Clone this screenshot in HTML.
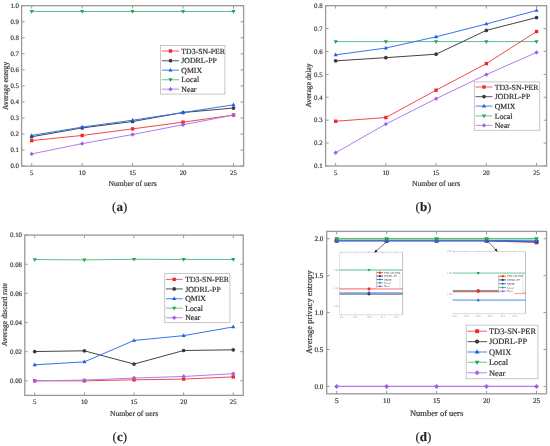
<!DOCTYPE html>
<html><head><meta charset="utf-8"><title>Figure</title>
<style>
html,body{margin:0;padding:0;background:#fff;width:550px;height:446px;overflow:hidden}
svg{display:block}
text{font-family:'Liberation Serif', 'Times New Roman', serif;text-rendering:geometricPrecision}
.tx text{stroke:#333;stroke-width:0.18px}
</style></head><body>
<svg width="550" height="446" viewBox="0 0 550 446">
<defs><filter id="bl" x="0" y="0" width="100%" height="100%"><feGaussianBlur stdDeviation="0.35"/></filter></defs>
<g filter="url(#bl)">
<rect x="0" y="0" width="550" height="446" fill="#ffffff"/><g class="tx"><g stroke="#999999" stroke-width="1"><line x1="31.69" y1="166.10" x2="31.69" y2="163.10"/><line x1="31.69" y1="5.70" x2="31.69" y2="8.70"/><line x1="82.15" y1="166.10" x2="82.15" y2="163.10"/><line x1="82.15" y1="5.70" x2="82.15" y2="8.70"/><line x1="132.60" y1="166.10" x2="132.60" y2="163.10"/><line x1="132.60" y1="5.70" x2="132.60" y2="8.70"/><line x1="183.05" y1="166.10" x2="183.05" y2="163.10"/><line x1="183.05" y1="5.70" x2="183.05" y2="8.70"/><line x1="233.51" y1="166.10" x2="233.51" y2="163.10"/><line x1="233.51" y1="5.70" x2="233.51" y2="8.70"/><line x1="21.60" y1="166.10" x2="24.60" y2="166.10"/><line x1="243.60" y1="166.10" x2="240.60" y2="166.10"/><line x1="21.60" y1="150.06" x2="24.60" y2="150.06"/><line x1="243.60" y1="150.06" x2="240.60" y2="150.06"/><line x1="21.60" y1="134.02" x2="24.60" y2="134.02"/><line x1="243.60" y1="134.02" x2="240.60" y2="134.02"/><line x1="21.60" y1="117.98" x2="24.60" y2="117.98"/><line x1="243.60" y1="117.98" x2="240.60" y2="117.98"/><line x1="21.60" y1="101.94" x2="24.60" y2="101.94"/><line x1="243.60" y1="101.94" x2="240.60" y2="101.94"/><line x1="21.60" y1="85.90" x2="24.60" y2="85.90"/><line x1="243.60" y1="85.90" x2="240.60" y2="85.90"/><line x1="21.60" y1="69.86" x2="24.60" y2="69.86"/><line x1="243.60" y1="69.86" x2="240.60" y2="69.86"/><line x1="21.60" y1="53.82" x2="24.60" y2="53.82"/><line x1="243.60" y1="53.82" x2="240.60" y2="53.82"/><line x1="21.60" y1="37.78" x2="24.60" y2="37.78"/><line x1="243.60" y1="37.78" x2="240.60" y2="37.78"/><line x1="21.60" y1="21.74" x2="24.60" y2="21.74"/><line x1="243.60" y1="21.74" x2="240.60" y2="21.74"/><line x1="21.60" y1="5.70" x2="24.60" y2="5.70"/><line x1="243.60" y1="5.70" x2="240.60" y2="5.70"/></g><polyline points="31.69,11.47 82.15,11.47 132.60,11.47 183.05,11.47 233.51,11.47" fill="none" stroke="#58c088" stroke-width="1.0"/><polygon points="31.69,13.77 33.76,10.09 29.62,10.09" fill="#23a45a"/><polygon points="82.15,13.77 84.22,10.09 80.08,10.09" fill="#23a45a"/><polygon points="132.60,13.77 134.67,10.09 130.53,10.09" fill="#23a45a"/><polygon points="183.05,13.77 185.12,10.09 180.98,10.09" fill="#23a45a"/><polygon points="233.51,13.77 235.58,10.09 231.44,10.09" fill="#23a45a"/><polyline points="31.69,140.60 82.15,135.46 132.60,128.89 183.05,122.15 233.51,115.09" fill="none" stroke="#f24848" stroke-width="1.0"/><rect x="29.99" y="138.90" width="3.40" height="3.40" fill="#f02c2c"/><rect x="80.45" y="133.76" width="3.40" height="3.40" fill="#f02c2c"/><rect x="130.90" y="127.19" width="3.40" height="3.40" fill="#f02c2c"/><rect x="181.35" y="120.45" width="3.40" height="3.40" fill="#f02c2c"/><rect x="231.81" y="113.39" width="3.40" height="3.40" fill="#f02c2c"/><polyline points="31.69,136.75 82.15,127.92 132.60,121.51 183.05,112.53 233.51,108.04" fill="none" stroke="#444444" stroke-width="1.0"/><circle cx="31.69" cy="136.75" r="1.85" fill="#3a3a3a"/><circle cx="82.15" cy="127.92" r="1.85" fill="#3a3a3a"/><circle cx="132.60" cy="121.51" r="1.85" fill="#3a3a3a"/><circle cx="183.05" cy="112.53" r="1.85" fill="#3a3a3a"/><circle cx="233.51" cy="108.04" r="1.85" fill="#3a3a3a"/><polyline points="31.69,135.46 82.15,127.12 132.60,120.23 183.05,112.53 233.51,104.83" fill="none" stroke="#3575ee" stroke-width="1.0"/><polygon points="31.69,133.16 33.76,136.84 29.62,136.84" fill="#1f5fe8"/><polygon points="82.15,124.82 84.22,128.50 80.08,128.50" fill="#1f5fe8"/><polygon points="132.60,117.93 134.67,121.61 130.53,121.61" fill="#1f5fe8"/><polygon points="183.05,110.23 185.12,113.91 180.98,113.91" fill="#1f5fe8"/><polygon points="233.51,102.53 235.58,106.21 231.44,106.21" fill="#1f5fe8"/><polyline points="31.69,153.91 82.15,143.64 132.60,134.50 183.05,124.72 233.51,115.09" fill="none" stroke="#b07cec" stroke-width="1.0"/><polygon points="31.69,151.71 33.89,153.91 31.69,156.11 29.49,153.91" fill="#a45ee6"/><polygon points="82.15,141.44 84.35,143.64 82.15,145.84 79.95,143.64" fill="#a45ee6"/><polygon points="132.60,132.30 134.80,134.50 132.60,136.70 130.40,134.50" fill="#a45ee6"/><polygon points="183.05,122.52 185.25,124.72 183.05,126.92 180.85,124.72" fill="#a45ee6"/><polygon points="233.51,112.89 235.71,115.09 233.51,117.29 231.31,115.09" fill="#a45ee6"/><rect x="21.60" y="5.70" width="222.00" height="160.40" fill="none" stroke="#999999" stroke-width="1.3"/><g font-size="6.85" fill="#333333"><text x="31.69" y="174.60" text-anchor="middle">5</text><text x="82.15" y="174.60" text-anchor="middle">10</text><text x="132.60" y="174.60" text-anchor="middle">15</text><text x="183.05" y="174.60" text-anchor="middle">20</text><text x="233.51" y="174.60" text-anchor="middle">25</text><text x="19.00" y="168.36" text-anchor="end">0.0</text><text x="19.00" y="152.32" text-anchor="end">0.1</text><text x="19.00" y="136.28" text-anchor="end">0.2</text><text x="19.00" y="120.24" text-anchor="end">0.3</text><text x="19.00" y="104.20" text-anchor="end">0.4</text><text x="19.00" y="88.16" text-anchor="end">0.5</text><text x="19.00" y="72.12" text-anchor="end">0.6</text><text x="19.00" y="56.08" text-anchor="end">0.7</text><text x="19.00" y="40.04" text-anchor="end">0.8</text><text x="19.00" y="24.00" text-anchor="end">0.9</text><text x="19.00" y="7.96" text-anchor="end">1.0</text></g><text x="132.60" y="186.00" font-size="7.7" text-anchor="middle" fill="#333333">Number of uers</text><text transform="translate(8.10,85.80) rotate(-90)" font-size="7.7" text-anchor="middle" fill="#333333">Average energy</text><rect x="160.50" y="45.50" width="64.40" height="48.60" fill="#fff" stroke="#c0c0c0" stroke-width="0.9"/><line x1="161.80" y1="51.00" x2="179.10" y2="51.00" stroke="#f24848" stroke-width="1.2" opacity="0.75"/><rect x="168.80" y="49.30" width="3.40" height="3.40" fill="#f02c2c"/><text x="181.30" y="53.65" font-size="7.8" fill="#2a2a2a">TD3-SN-PER</text><line x1="161.80" y1="60.70" x2="179.10" y2="60.70" stroke="#444444" stroke-width="1.2" opacity="0.75"/><circle cx="170.50" cy="60.70" r="1.85" fill="#3a3a3a"/><text x="181.30" y="63.35" font-size="7.8" fill="#2a2a2a">JODRL-PP</text><line x1="161.80" y1="70.20" x2="179.10" y2="70.20" stroke="#3575ee" stroke-width="1.2" opacity="0.75"/><polygon points="170.50,67.90 172.57,71.58 168.43,71.58" fill="#1f5fe8"/><text x="181.30" y="72.85" font-size="7.8" fill="#2a2a2a">QMIX</text><line x1="161.80" y1="79.70" x2="179.10" y2="79.70" stroke="#58c088" stroke-width="1.2" opacity="0.75"/><polygon points="170.50,82.00 172.57,78.32 168.43,78.32" fill="#23a45a"/><text x="181.30" y="82.35" font-size="7.8" fill="#2a2a2a">Local</text><line x1="161.80" y1="89.20" x2="179.10" y2="89.20" stroke="#b07cec" stroke-width="1.2" opacity="0.75"/><polygon points="170.50,87.00 172.70,89.20 170.50,91.40 168.30,89.20" fill="#a45ee6"/><text x="181.30" y="91.85" font-size="7.8" fill="#2a2a2a">Near</text><text x="119.70" y="210.80" font-size="13" text-anchor="middle" fill="#222">(<tspan font-weight="bold">a</tspan>)</text><g stroke="#999999" stroke-width="1"><line x1="335.65" y1="166.00" x2="335.65" y2="163.00"/><line x1="335.65" y1="5.65" x2="335.65" y2="8.65"/><line x1="385.87" y1="166.00" x2="385.87" y2="163.00"/><line x1="385.87" y1="5.65" x2="385.87" y2="8.65"/><line x1="436.10" y1="166.00" x2="436.10" y2="163.00"/><line x1="436.10" y1="5.65" x2="436.10" y2="8.65"/><line x1="486.33" y1="166.00" x2="486.33" y2="163.00"/><line x1="486.33" y1="5.65" x2="486.33" y2="8.65"/><line x1="536.55" y1="166.00" x2="536.55" y2="163.00"/><line x1="536.55" y1="5.65" x2="536.55" y2="8.65"/><line x1="325.60" y1="166.00" x2="328.60" y2="166.00"/><line x1="546.60" y1="166.00" x2="543.60" y2="166.00"/><line x1="325.60" y1="143.09" x2="328.60" y2="143.09"/><line x1="546.60" y1="143.09" x2="543.60" y2="143.09"/><line x1="325.60" y1="120.19" x2="328.60" y2="120.19"/><line x1="546.60" y1="120.19" x2="543.60" y2="120.19"/><line x1="325.60" y1="97.28" x2="328.60" y2="97.28"/><line x1="546.60" y1="97.28" x2="543.60" y2="97.28"/><line x1="325.60" y1="74.37" x2="328.60" y2="74.37"/><line x1="546.60" y1="74.37" x2="543.60" y2="74.37"/><line x1="325.60" y1="51.46" x2="328.60" y2="51.46"/><line x1="546.60" y1="51.46" x2="543.60" y2="51.46"/><line x1="325.60" y1="28.56" x2="328.60" y2="28.56"/><line x1="546.60" y1="28.56" x2="543.60" y2="28.56"/><line x1="325.60" y1="5.65" x2="328.60" y2="5.65"/><line x1="546.60" y1="5.65" x2="543.60" y2="5.65"/></g><polyline points="335.65,41.61 385.87,41.61 436.10,41.61 486.33,41.61 536.55,41.61" fill="none" stroke="#58c088" stroke-width="1.0"/><polygon points="335.65,43.91 337.72,40.23 333.58,40.23" fill="#23a45a"/><polygon points="385.87,43.91 387.94,40.23 383.80,40.23" fill="#23a45a"/><polygon points="436.10,43.91 438.17,40.23 434.03,40.23" fill="#23a45a"/><polygon points="486.33,43.91 488.40,40.23 484.26,40.23" fill="#23a45a"/><polygon points="536.55,43.91 538.62,40.23 534.48,40.23" fill="#23a45a"/><polyline points="335.65,121.24 385.87,117.53 436.10,90.18 486.33,63.61 536.55,31.54" fill="none" stroke="#f24848" stroke-width="1.0"/><rect x="333.95" y="119.54" width="3.40" height="3.40" fill="#f02c2c"/><rect x="384.17" y="115.83" width="3.40" height="3.40" fill="#f02c2c"/><rect x="434.40" y="88.48" width="3.40" height="3.40" fill="#f02c2c"/><rect x="484.63" y="61.91" width="3.40" height="3.40" fill="#f02c2c"/><rect x="534.85" y="29.84" width="3.40" height="3.40" fill="#f02c2c"/><polyline points="335.65,60.86 385.87,57.65 436.10,54.21 486.33,30.39 536.55,17.56" fill="none" stroke="#444444" stroke-width="1.0"/><circle cx="335.65" cy="60.86" r="1.85" fill="#3a3a3a"/><circle cx="385.87" cy="57.65" r="1.85" fill="#3a3a3a"/><circle cx="436.10" cy="54.21" r="1.85" fill="#3a3a3a"/><circle cx="486.33" cy="30.39" r="1.85" fill="#3a3a3a"/><circle cx="536.55" cy="17.56" r="1.85" fill="#3a3a3a"/><polyline points="335.65,54.90 385.87,48.03 436.10,36.80 486.33,23.98 536.55,10.46" fill="none" stroke="#3575ee" stroke-width="1.0"/><polygon points="335.65,52.60 337.72,56.28 333.58,56.28" fill="#1f5fe8"/><polygon points="385.87,45.73 387.94,49.41 383.80,49.41" fill="#1f5fe8"/><polygon points="436.10,34.50 438.17,38.18 434.03,38.18" fill="#1f5fe8"/><polygon points="486.33,21.68 488.40,25.36 484.26,25.36" fill="#1f5fe8"/><polygon points="536.55,8.16 538.62,11.84 534.48,11.84" fill="#1f5fe8"/><polyline points="335.65,152.71 385.87,124.08 436.10,98.65 486.33,74.60 536.55,52.38" fill="none" stroke="#b07cec" stroke-width="1.0"/><polygon points="335.65,150.51 337.85,152.71 335.65,154.91 333.45,152.71" fill="#a45ee6"/><polygon points="385.87,121.88 388.07,124.08 385.87,126.28 383.67,124.08" fill="#a45ee6"/><polygon points="436.10,96.45 438.30,98.65 436.10,100.85 433.90,98.65" fill="#a45ee6"/><polygon points="486.33,72.40 488.53,74.60 486.33,76.80 484.13,74.60" fill="#a45ee6"/><polygon points="536.55,50.18 538.75,52.38 536.55,54.58 534.35,52.38" fill="#a45ee6"/><rect x="325.60" y="5.65" width="221.00" height="160.35" fill="none" stroke="#999999" stroke-width="1.3"/><g font-size="6.85" fill="#333333"><text x="335.65" y="174.80" text-anchor="middle">5</text><text x="385.87" y="174.80" text-anchor="middle">10</text><text x="436.10" y="174.80" text-anchor="middle">15</text><text x="486.33" y="174.80" text-anchor="middle">20</text><text x="536.55" y="174.80" text-anchor="middle">25</text><text x="322.60" y="168.26" text-anchor="end">0.1</text><text x="322.60" y="145.35" text-anchor="end">0.2</text><text x="322.60" y="122.45" text-anchor="end">0.3</text><text x="322.60" y="99.54" text-anchor="end">0.4</text><text x="322.60" y="76.63" text-anchor="end">0.5</text><text x="322.60" y="53.72" text-anchor="end">0.6</text><text x="322.60" y="30.82" text-anchor="end">0.7</text><text x="322.60" y="7.91" text-anchor="end">0.8</text></g><text x="436.10" y="186.40" font-size="7.7" text-anchor="middle" fill="#333333">Number of uers</text><text transform="translate(310.60,85.40) rotate(-90)" font-size="7.7" text-anchor="middle" fill="#333333">Average delay</text><rect x="474.40" y="81.90" width="65.30" height="48.40" fill="#fff" stroke="#c0c0c0" stroke-width="0.9"/><line x1="475.50" y1="87.00" x2="492.40" y2="87.00" stroke="#f24848" stroke-width="1.2" opacity="0.75"/><rect x="482.30" y="85.30" width="3.40" height="3.40" fill="#f02c2c"/><text x="494.70" y="89.65" font-size="7.8" fill="#2a2a2a">TD3-SN-PER</text><line x1="475.50" y1="96.60" x2="492.40" y2="96.60" stroke="#444444" stroke-width="1.2" opacity="0.75"/><circle cx="484.00" cy="96.60" r="1.85" fill="#3a3a3a"/><text x="494.70" y="99.25" font-size="7.8" fill="#2a2a2a">JODRL-PP</text><line x1="475.50" y1="106.10" x2="492.40" y2="106.10" stroke="#3575ee" stroke-width="1.2" opacity="0.75"/><polygon points="484.00,103.80 486.07,107.48 481.93,107.48" fill="#1f5fe8"/><text x="494.70" y="108.75" font-size="7.8" fill="#2a2a2a">QMIX</text><line x1="475.50" y1="115.90" x2="492.40" y2="115.90" stroke="#58c088" stroke-width="1.2" opacity="0.75"/><polygon points="484.00,118.20 486.07,114.52 481.93,114.52" fill="#23a45a"/><text x="494.70" y="118.55" font-size="7.8" fill="#2a2a2a">Local</text><line x1="475.50" y1="125.40" x2="492.40" y2="125.40" stroke="#b07cec" stroke-width="1.2" opacity="0.75"/><polygon points="484.00,123.20 486.20,125.40 484.00,127.60 481.80,125.40" fill="#a45ee6"/><text x="494.70" y="128.05" font-size="7.8" fill="#2a2a2a">Near</text><text x="423.50" y="211.00" font-size="13" text-anchor="middle" fill="#222">(<tspan font-weight="bold">b</tspan>)</text><g stroke="#999999" stroke-width="1"><line x1="34.73" y1="395.40" x2="34.73" y2="392.40"/><line x1="34.73" y1="235.10" x2="34.73" y2="238.10"/><line x1="84.36" y1="395.40" x2="84.36" y2="392.40"/><line x1="84.36" y1="235.10" x2="84.36" y2="238.10"/><line x1="134.00" y1="395.40" x2="134.00" y2="392.40"/><line x1="134.00" y1="235.10" x2="134.00" y2="238.10"/><line x1="183.64" y1="395.40" x2="183.64" y2="392.40"/><line x1="183.64" y1="235.10" x2="183.64" y2="238.10"/><line x1="233.27" y1="395.40" x2="233.27" y2="392.40"/><line x1="233.27" y1="235.10" x2="233.27" y2="238.10"/><line x1="24.80" y1="380.83" x2="27.80" y2="380.83"/><line x1="243.20" y1="380.83" x2="240.20" y2="380.83"/><line x1="24.80" y1="351.68" x2="27.80" y2="351.68"/><line x1="243.20" y1="351.68" x2="240.20" y2="351.68"/><line x1="24.80" y1="322.54" x2="27.80" y2="322.54"/><line x1="243.20" y1="322.54" x2="240.20" y2="322.54"/><line x1="24.80" y1="293.39" x2="27.80" y2="293.39"/><line x1="243.20" y1="293.39" x2="240.20" y2="293.39"/><line x1="24.80" y1="264.25" x2="27.80" y2="264.25"/><line x1="243.20" y1="264.25" x2="240.20" y2="264.25"/><line x1="24.80" y1="235.10" x2="27.80" y2="235.10"/><line x1="243.20" y1="235.10" x2="240.20" y2="235.10"/></g><polyline points="34.73,259.58 84.36,259.87 134.00,259.29 183.64,259.44 233.27,259.44" fill="none" stroke="#58c088" stroke-width="1.0"/><polygon points="34.73,261.88 36.80,258.20 32.66,258.20" fill="#23a45a"/><polygon points="84.36,262.17 86.43,258.49 82.29,258.49" fill="#23a45a"/><polygon points="134.00,261.59 136.07,257.91 131.93,257.91" fill="#23a45a"/><polygon points="183.64,261.74 185.71,258.06 181.57,258.06" fill="#23a45a"/><polygon points="233.27,261.74 235.34,258.06 231.20,258.06" fill="#23a45a"/><polyline points="34.73,380.83 84.36,380.83 134.00,379.81 183.64,379.08 233.27,376.89" fill="none" stroke="#f24848" stroke-width="1.0"/><rect x="33.03" y="379.13" width="3.40" height="3.40" fill="#f02c2c"/><rect x="82.66" y="379.13" width="3.40" height="3.40" fill="#f02c2c"/><rect x="132.30" y="378.11" width="3.40" height="3.40" fill="#f02c2c"/><rect x="181.94" y="377.38" width="3.40" height="3.40" fill="#f02c2c"/><rect x="231.57" y="375.19" width="3.40" height="3.40" fill="#f02c2c"/><polyline points="34.73,351.54 84.36,350.81 134.00,364.07 183.64,350.52 233.27,349.79" fill="none" stroke="#444444" stroke-width="1.0"/><circle cx="34.73" cy="351.54" r="1.85" fill="#3a3a3a"/><circle cx="84.36" cy="350.81" r="1.85" fill="#3a3a3a"/><circle cx="134.00" cy="364.07" r="1.85" fill="#3a3a3a"/><circle cx="183.64" cy="350.52" r="1.85" fill="#3a3a3a"/><circle cx="233.27" cy="349.79" r="1.85" fill="#3a3a3a"/><polyline points="34.73,364.80 84.36,361.88 134.00,340.46 183.64,335.65 233.27,326.91" fill="none" stroke="#3575ee" stroke-width="1.0"/><polygon points="34.73,362.50 36.80,366.18 32.66,366.18" fill="#1f5fe8"/><polygon points="84.36,359.58 86.43,363.26 82.29,363.26" fill="#1f5fe8"/><polygon points="134.00,338.16 136.07,341.84 131.93,341.84" fill="#1f5fe8"/><polygon points="183.64,333.35 185.71,337.03 181.57,337.03" fill="#1f5fe8"/><polygon points="233.27,324.61 235.34,328.29 231.20,328.29" fill="#1f5fe8"/><polyline points="34.73,380.83 84.36,380.10 134.00,378.06 183.64,376.46 233.27,373.69" fill="none" stroke="#b07cec" stroke-width="1.0"/><polygon points="34.73,378.63 36.93,380.83 34.73,383.03 32.53,380.83" fill="#a45ee6"/><polygon points="84.36,377.90 86.56,380.10 84.36,382.30 82.16,380.10" fill="#a45ee6"/><polygon points="134.00,375.86 136.20,378.06 134.00,380.26 131.80,378.06" fill="#a45ee6"/><polygon points="183.64,374.26 185.84,376.46 183.64,378.66 181.44,376.46" fill="#a45ee6"/><polygon points="233.27,371.49 235.47,373.69 233.27,375.89 231.07,373.69" fill="#a45ee6"/><rect x="24.80" y="235.10" width="218.40" height="160.30" fill="none" stroke="#999999" stroke-width="1.3"/><g font-size="6.85" fill="#333333"><text x="34.73" y="403.60" text-anchor="middle">5</text><text x="84.36" y="403.60" text-anchor="middle">10</text><text x="134.00" y="403.60" text-anchor="middle">15</text><text x="183.64" y="403.60" text-anchor="middle">20</text><text x="233.27" y="403.60" text-anchor="middle">25</text><text x="22.00" y="383.09" text-anchor="end">0.00</text><text x="22.00" y="353.94" text-anchor="end">0.02</text><text x="22.00" y="324.80" text-anchor="end">0.04</text><text x="22.00" y="295.65" text-anchor="end">0.06</text><text x="22.00" y="266.51" text-anchor="end">0.08</text><text x="22.00" y="237.36" text-anchor="end">0.10</text></g><text x="134.00" y="416.10" font-size="7.7" text-anchor="middle" fill="#333333">Number of uers</text><text transform="translate(7.10,314.70) rotate(-90)" font-size="7.7" text-anchor="middle" fill="#333333">Average discard rate</text><rect x="164.70" y="273.50" width="65.20" height="49.10" fill="#fff" stroke="#c0c0c0" stroke-width="0.9"/><line x1="165.90" y1="279.40" x2="182.70" y2="279.40" stroke="#f24848" stroke-width="1.2" opacity="0.75"/><rect x="172.50" y="277.70" width="3.40" height="3.40" fill="#f02c2c"/><text x="185.20" y="282.05" font-size="7.8" fill="#2a2a2a">TD3-SN-PER</text><line x1="165.90" y1="288.90" x2="182.70" y2="288.90" stroke="#444444" stroke-width="1.2" opacity="0.75"/><circle cx="174.20" cy="288.90" r="1.85" fill="#3a3a3a"/><text x="185.20" y="291.55" font-size="7.8" fill="#2a2a2a">JODRL-PP</text><line x1="165.90" y1="298.70" x2="182.70" y2="298.70" stroke="#3575ee" stroke-width="1.2" opacity="0.75"/><polygon points="174.20,296.40 176.27,300.08 172.13,300.08" fill="#1f5fe8"/><text x="185.20" y="301.35" font-size="7.8" fill="#2a2a2a">QMIX</text><line x1="165.90" y1="308.20" x2="182.70" y2="308.20" stroke="#58c088" stroke-width="1.2" opacity="0.75"/><polygon points="174.20,310.50 176.27,306.82 172.13,306.82" fill="#23a45a"/><text x="185.20" y="310.85" font-size="7.8" fill="#2a2a2a">Local</text><line x1="165.90" y1="317.70" x2="182.70" y2="317.70" stroke="#b07cec" stroke-width="1.2" opacity="0.75"/><polygon points="174.20,315.50 176.40,317.70 174.20,319.90 172.00,317.70" fill="#a45ee6"/><text x="185.20" y="320.35" font-size="7.8" fill="#2a2a2a">Near</text><text x="119.80" y="440.50" font-size="13" text-anchor="middle" fill="#222">(<tspan font-weight="bold">c</tspan>)</text><g stroke="#999999" stroke-width="1"><line x1="336.69" y1="393.80" x2="336.69" y2="390.80"/><line x1="336.69" y1="231.40" x2="336.69" y2="234.40"/><line x1="386.65" y1="393.80" x2="386.65" y2="390.80"/><line x1="386.65" y1="231.40" x2="386.65" y2="234.40"/><line x1="436.60" y1="393.80" x2="436.60" y2="390.80"/><line x1="436.60" y1="231.40" x2="436.60" y2="234.40"/><line x1="486.55" y1="393.80" x2="486.55" y2="390.80"/><line x1="486.55" y1="231.40" x2="486.55" y2="234.40"/><line x1="536.51" y1="393.80" x2="536.51" y2="390.80"/><line x1="536.51" y1="231.40" x2="536.51" y2="234.40"/><line x1="326.70" y1="386.42" x2="329.70" y2="386.42"/><line x1="546.50" y1="386.42" x2="543.50" y2="386.42"/><line x1="326.70" y1="349.51" x2="329.70" y2="349.51"/><line x1="546.50" y1="349.51" x2="543.50" y2="349.51"/><line x1="326.70" y1="312.60" x2="329.70" y2="312.60"/><line x1="546.50" y1="312.60" x2="543.50" y2="312.60"/><line x1="326.70" y1="275.69" x2="329.70" y2="275.69"/><line x1="546.50" y1="275.69" x2="543.50" y2="275.69"/><line x1="326.70" y1="238.78" x2="329.70" y2="238.78"/><line x1="546.50" y1="238.78" x2="543.50" y2="238.78"/></g><polyline points="336.69,386.42 386.65,386.42 436.60,386.42 486.55,386.42 536.51,386.42" fill="none" stroke="#b07cec" stroke-width="1.4"/><polygon points="336.69,383.89 339.22,386.42 336.69,388.95 334.16,386.42" fill="#a45ee6"/><polygon points="386.65,383.89 389.18,386.42 386.65,388.95 384.12,386.42" fill="#a45ee6"/><polygon points="436.60,383.89 439.13,386.42 436.60,388.95 434.07,386.42" fill="#a45ee6"/><polygon points="486.55,383.89 489.08,386.42 486.55,388.95 484.02,386.42" fill="#a45ee6"/><polygon points="536.51,383.89 539.04,386.42 536.51,388.95 533.98,386.42" fill="#a45ee6"/><polyline points="336.69,240.55 386.65,240.55 436.60,240.55 486.55,240.55 536.51,242.40" fill="none" stroke="#f24848" stroke-width="1.4"/><rect x="334.74" y="238.60" width="3.91" height="3.91" fill="#f02c2c"/><rect x="384.69" y="238.60" width="3.91" height="3.91" fill="#f02c2c"/><rect x="434.65" y="238.60" width="3.91" height="3.91" fill="#f02c2c"/><rect x="484.60" y="238.60" width="3.91" height="3.91" fill="#f02c2c"/><rect x="534.55" y="240.44" width="3.91" height="3.91" fill="#f02c2c"/><polyline points="336.69,240.63 386.65,240.63 436.60,240.63 486.55,240.63 536.51,241.44" fill="none" stroke="#444444" stroke-width="1.4"/><circle cx="336.69" cy="240.63" r="2.13" fill="#3a3a3a"/><circle cx="386.65" cy="240.63" r="2.13" fill="#3a3a3a"/><circle cx="436.60" cy="240.63" r="2.13" fill="#3a3a3a"/><circle cx="486.55" cy="240.63" r="2.13" fill="#3a3a3a"/><circle cx="536.51" cy="241.44" r="2.13" fill="#3a3a3a"/><polyline points="336.69,240.63 386.65,240.63 436.60,240.63 486.55,240.63 536.51,241.22" fill="none" stroke="#3575ee" stroke-width="1.4"/><polygon points="336.69,237.98 339.07,242.21 334.31,242.21" fill="#1f5fe8"/><polygon points="386.65,237.98 389.03,242.21 384.26,242.21" fill="#1f5fe8"/><polygon points="436.60,237.98 438.98,242.21 434.22,242.21" fill="#1f5fe8"/><polygon points="486.55,237.98 488.94,242.21 484.17,242.21" fill="#1f5fe8"/><polygon points="536.51,238.57 538.89,242.80 534.13,242.80" fill="#1f5fe8"/><polyline points="336.69,238.78 386.65,238.78 436.60,238.78 486.55,238.78 536.51,238.78" fill="none" stroke="#58c088" stroke-width="1.4"/><polygon points="336.69,241.43 339.07,237.19 334.31,237.19" fill="#23a45a"/><polygon points="386.65,241.43 389.03,237.19 384.26,237.19" fill="#23a45a"/><polygon points="436.60,241.43 438.98,237.19 434.22,237.19" fill="#23a45a"/><polygon points="486.55,241.43 488.94,237.19 484.17,237.19" fill="#23a45a"/><polygon points="536.51,241.43 538.89,237.19 534.13,237.19" fill="#23a45a"/><rect x="326.70" y="231.40" width="219.80" height="162.40" fill="none" stroke="#999999" stroke-width="1.3"/><g font-size="7.2" fill="#333333"><text x="336.69" y="402.50" text-anchor="middle">5</text><text x="386.65" y="402.50" text-anchor="middle">10</text><text x="436.60" y="402.50" text-anchor="middle">15</text><text x="486.55" y="402.50" text-anchor="middle">20</text><text x="536.51" y="402.50" text-anchor="middle">25</text><text x="323.40" y="388.79" text-anchor="end">0.0</text><text x="323.40" y="351.89" text-anchor="end">0.5</text><text x="323.40" y="314.98" text-anchor="end">1.0</text><text x="323.40" y="278.07" text-anchor="end">1.5</text><text x="323.40" y="241.16" text-anchor="end">2.0</text></g><text x="436.60" y="416.10" font-size="8.5" text-anchor="middle" fill="#333333">Number of uers</text><text transform="translate(311.50,312.20) rotate(-90)" font-size="8.5" text-anchor="middle" fill="#333333">Average privacy entropy</text><rect x="466.20" y="325.20" width="71.70" height="53.50" fill="#fff" stroke="#c0c0c0" stroke-width="0.9"/><line x1="467.40" y1="331.20" x2="487.00" y2="331.20" stroke="#f24848" stroke-width="1.2" opacity="0.75"/><rect x="475.15" y="329.25" width="3.91" height="3.91" fill="#f02c2c"/><text x="489.00" y="334.06" font-size="8.4" fill="#2a2a2a">TD3-SN-PER</text><line x1="467.40" y1="341.60" x2="487.00" y2="341.60" stroke="#444444" stroke-width="1.2" opacity="0.75"/><circle cx="477.10" cy="341.60" r="2.13" fill="#3a3a3a"/><text x="489.00" y="344.46" font-size="8.4" fill="#2a2a2a">JODRL-PP</text><line x1="467.40" y1="352.00" x2="487.00" y2="352.00" stroke="#3575ee" stroke-width="1.2" opacity="0.75"/><polygon points="477.10,349.36 479.48,353.59 474.72,353.59" fill="#1f5fe8"/><text x="489.00" y="354.86" font-size="8.4" fill="#2a2a2a">QMIX</text><line x1="467.40" y1="362.30" x2="487.00" y2="362.30" stroke="#58c088" stroke-width="1.2" opacity="0.75"/><polygon points="477.10,364.94 479.48,360.71 474.72,360.71" fill="#23a45a"/><text x="489.00" y="365.16" font-size="8.4" fill="#2a2a2a">Local</text><line x1="467.40" y1="372.70" x2="487.00" y2="372.70" stroke="#b07cec" stroke-width="1.2" opacity="0.75"/><polygon points="477.10,370.17 479.63,372.70 477.10,375.23 474.57,372.70" fill="#a45ee6"/><text x="489.00" y="375.56" font-size="8.4" fill="#2a2a2a">Near</text><text x="423.40" y="440.60" font-size="13" text-anchor="middle" fill="#222">(<tspan font-weight="bold">d</tspan>)</text></g><g><rect x="339.5" y="252.2" width="63.10" height="62.60" fill="#fff" stroke="none"/><path d="M339.5 252.2H402.6M339.5 314.8H402.6" stroke="#c4c4c4" stroke-width="0.6" fill="none"/><line x1="339.5" y1="252.2" x2="339.5" y2="314.8" stroke="#d0d0d0" stroke-width="0.6"/><line x1="402.6" y1="252.2" x2="402.6" y2="314.8" stroke="#b0b0b0" stroke-width="0.8"/><text x="338.50" y="270.70" font-size="2.8" text-anchor="end" fill="#888">1.98</text><line x1="339.5" y1="269.8" x2="340.7" y2="269.8" stroke="#aaa" stroke-width="0.4"/><text x="338.50" y="288.70" font-size="2.8" text-anchor="end" fill="#888">1.96</text><line x1="339.5" y1="287.8" x2="340.7" y2="287.8" stroke="#aaa" stroke-width="0.4"/><text x="338.50" y="306.90" font-size="2.8" text-anchor="end" fill="#888">1.94</text><line x1="339.5" y1="306.0" x2="340.7" y2="306.0" stroke="#aaa" stroke-width="0.4"/><text x="341.50" y="317.80" font-size="2.8" text-anchor="middle" fill="#888">9.8</text><line x1="341.5" y1="314.8" x2="341.5" y2="313.6" stroke="#aaa" stroke-width="0.4"/><line x1="341.5" y1="252.2" x2="341.5" y2="253.39999999999998" stroke="#999" stroke-width="0.5"/><text x="355.20" y="317.80" font-size="2.8" text-anchor="middle" fill="#888">9.9</text><line x1="355.2" y1="314.8" x2="355.2" y2="313.6" stroke="#aaa" stroke-width="0.4"/><line x1="355.2" y1="252.2" x2="355.2" y2="253.39999999999998" stroke="#999" stroke-width="0.5"/><text x="369.00" y="317.80" font-size="2.8" text-anchor="middle" fill="#888">10.0</text><line x1="369.0" y1="314.8" x2="369.0" y2="313.6" stroke="#aaa" stroke-width="0.4"/><line x1="369.0" y1="252.2" x2="369.0" y2="253.39999999999998" stroke="#999" stroke-width="0.5"/><text x="382.60" y="317.80" font-size="2.8" text-anchor="middle" fill="#888">10.1</text><line x1="382.6" y1="314.8" x2="382.6" y2="313.6" stroke="#aaa" stroke-width="0.4"/><line x1="382.6" y1="252.2" x2="382.6" y2="253.39999999999998" stroke="#999" stroke-width="0.5"/><text x="396.30" y="317.80" font-size="2.8" text-anchor="middle" fill="#888">10.2</text><line x1="396.3" y1="314.8" x2="396.3" y2="313.6" stroke="#aaa" stroke-width="0.4"/><line x1="396.3" y1="252.2" x2="396.3" y2="253.39999999999998" stroke="#999" stroke-width="0.5"/><line x1="339.5" y1="294.1" x2="402.6" y2="294.1" stroke="#444444" stroke-width="1.8" opacity="0.5"/><line x1="339.5" y1="292.8" x2="402.6" y2="292.8" stroke="#3575ee" stroke-width="1.8" opacity="0.5"/><line x1="339.5" y1="288.9" x2="402.6" y2="288.9" stroke="#f24848" stroke-width="1.8" opacity="0.5"/><line x1="339.5" y1="270.0" x2="402.6" y2="270.0" stroke="#58c088" stroke-width="1.8" opacity="0.5"/><circle cx="369.00" cy="294.10" r="1.48" fill="#3a3a3a"/><polygon points="369.00,290.76 370.66,293.70 367.34,293.70" fill="#1f5fe8"/><rect x="367.64" y="287.54" width="2.72" height="2.72" fill="#f02c2c"/><polygon points="369.00,271.84 370.66,268.90 367.34,268.90" fill="#23a45a"/><rect x="376.4" y="271.0" width="23.60" height="17.20" fill="#fff" stroke="none"/><line x1="376.4" y1="271.0" x2="376.4" y2="288.2" stroke="#888" stroke-width="0.45"/><line x1="400.0" y1="271.0" x2="400.0" y2="288.2" stroke="#bbb" stroke-width="0.4"/><line x1="376.7" y1="272.7" x2="383.0" y2="272.7" stroke="#f24848" stroke-width="0.9"/><rect x="378.88" y="271.68" width="2.04" height="2.04" fill="#f02c2c"/><text x="384.0" y="273.7" font-size="2.9" fill="#444">TD3-SN-PER</text><line x1="376.7" y1="276.1" x2="383.0" y2="276.1" stroke="#444444" stroke-width="0.9"/><circle cx="379.90" cy="276.10" r="1.11" fill="#3a3a3a"/><text x="384.0" y="277.1" font-size="2.9" fill="#444">JODRL-PP</text><line x1="376.7" y1="279.5" x2="383.0" y2="279.5" stroke="#3575ee" stroke-width="0.9"/><polygon points="379.90,278.12 381.14,280.33 378.66,280.33" fill="#1f5fe8"/><text x="384.0" y="280.5" font-size="2.9" fill="#444">QMIX</text><line x1="376.7" y1="282.9" x2="383.0" y2="282.9" stroke="#58c088" stroke-width="0.9"/><polygon points="379.90,284.28 381.14,282.07 378.66,282.07" fill="#23a45a"/><text x="384.0" y="283.9" font-size="2.9" fill="#444">Local</text><line x1="376.7" y1="286.3" x2="383.0" y2="286.3" stroke="#b07cec" stroke-width="0.9"/><polygon points="379.90,284.98 381.22,286.30 379.90,287.62 378.58,286.30" fill="#a45ee6"/><text x="384.0" y="287.3" font-size="2.9" fill="#444">Near</text><line x1="386.9" y1="241.6" x2="374.4" y2="252.4" stroke="#222" stroke-width="0.6"/><polygon points="374.40,252.40 375.82,249.45 377.52,251.42" fill="#111"/></g><g><rect x="452.8" y="251.5" width="72.70" height="62.20" fill="#fff" stroke="none"/><path d="M452.8 251.5H525.5M452.8 313.7H525.5" stroke="#c4c4c4" stroke-width="0.6" fill="none"/><line x1="525.5" y1="251.5" x2="525.5" y2="313.7" stroke="#b0b0b0" stroke-width="0.8"/><text x="451.80" y="252.40" font-size="2.8" text-anchor="end" fill="#888">2.00</text><line x1="452.8" y1="251.5" x2="454.0" y2="251.5" stroke="#aaa" stroke-width="0.4"/><text x="451.80" y="274.00" font-size="2.8" text-anchor="end" fill="#888">1.99</text><line x1="452.8" y1="273.1" x2="454.0" y2="273.1" stroke="#aaa" stroke-width="0.4"/><text x="451.80" y="295.40" font-size="2.8" text-anchor="end" fill="#888">1.98</text><line x1="452.8" y1="294.5" x2="454.0" y2="294.5" stroke="#aaa" stroke-width="0.4"/><text x="454.30" y="316.70" font-size="2.8" text-anchor="middle" fill="#888">19.6</text><line x1="454.3" y1="313.7" x2="454.3" y2="312.5" stroke="#aaa" stroke-width="0.4"/><line x1="454.3" y1="251.5" x2="454.3" y2="252.7" stroke="#999" stroke-width="0.5"/><text x="466.10" y="316.70" font-size="2.8" text-anchor="middle" fill="#888">19.8</text><line x1="466.1" y1="313.7" x2="466.1" y2="312.5" stroke="#aaa" stroke-width="0.4"/><line x1="466.1" y1="251.5" x2="466.1" y2="252.7" stroke="#999" stroke-width="0.5"/><text x="478.00" y="316.70" font-size="2.8" text-anchor="middle" fill="#888">20.0</text><line x1="478.0" y1="313.7" x2="478.0" y2="312.5" stroke="#aaa" stroke-width="0.4"/><line x1="478.0" y1="251.5" x2="478.0" y2="252.7" stroke="#999" stroke-width="0.5"/><text x="490.20" y="316.70" font-size="2.8" text-anchor="middle" fill="#888">20.2</text><line x1="490.2" y1="313.7" x2="490.2" y2="312.5" stroke="#aaa" stroke-width="0.4"/><line x1="490.2" y1="251.5" x2="490.2" y2="252.7" stroke="#999" stroke-width="0.5"/><text x="502.70" y="316.70" font-size="2.8" text-anchor="middle" fill="#888">20.4</text><line x1="502.7" y1="313.7" x2="502.7" y2="312.5" stroke="#aaa" stroke-width="0.4"/><line x1="502.7" y1="251.5" x2="502.7" y2="252.7" stroke="#999" stroke-width="0.5"/><text x="514.60" y="316.70" font-size="2.8" text-anchor="middle" fill="#888">20.6</text><line x1="514.6" y1="313.7" x2="514.6" y2="312.5" stroke="#aaa" stroke-width="0.4"/><line x1="514.6" y1="251.5" x2="514.6" y2="252.7" stroke="#999" stroke-width="0.5"/><line x1="452.8" y1="291.5" x2="498.6" y2="291.5" stroke="#f24848" stroke-width="1.8" opacity="0.5"/><line x1="452.8" y1="290.8" x2="498.6" y2="290.8" stroke="#444444" stroke-width="1.8" opacity="0.5"/><line x1="514.4" y1="293.2" x2="525.5" y2="293.2" stroke="#f24848" stroke-width="1.8" opacity="0.5"/><line x1="452.8" y1="300.2" x2="525.5" y2="300.2" stroke="#3575ee" stroke-width="1.8" opacity="0.5"/><line x1="452.8" y1="273.1" x2="525.5" y2="273.1" stroke="#58c088" stroke-width="1.8" opacity="0.5"/><circle cx="478.20" cy="290.80" r="1.48" fill="#3a3a3a"/><rect x="476.84" y="289.94" width="2.72" height="2.72" fill="#f02c2c"/><polygon points="478.20,298.36 479.86,301.30 476.54,301.30" fill="#1f5fe8"/><polygon points="478.20,274.94 479.86,272.00 476.54,272.00" fill="#23a45a"/><rect x="498.6" y="274.5" width="24.40" height="18.50" fill="#fff" stroke="none"/><line x1="498.6" y1="274.5" x2="498.6" y2="293.0" stroke="#888" stroke-width="0.45"/><line x1="523.0" y1="274.5" x2="523.0" y2="293.0" stroke="#bbb" stroke-width="0.4"/><line x1="498.90000000000003" y1="276.2" x2="506.0" y2="276.2" stroke="#f24848" stroke-width="0.9"/><rect x="501.68" y="275.18" width="2.04" height="2.04" fill="#f02c2c"/><text x="507.0" y="277.2" font-size="2.9" fill="#444">TD3-SN-PER</text><line x1="498.90000000000003" y1="279.9" x2="506.0" y2="279.9" stroke="#444444" stroke-width="0.9"/><circle cx="502.70" cy="279.90" r="1.11" fill="#3a3a3a"/><text x="507.0" y="280.9" font-size="2.9" fill="#444">JODRL-PP</text><line x1="498.90000000000003" y1="283.7" x2="506.0" y2="283.7" stroke="#3575ee" stroke-width="0.9"/><polygon points="502.70,282.32 503.94,284.53 501.46,284.53" fill="#1f5fe8"/><text x="507.0" y="284.7" font-size="2.9" fill="#444">QMIX</text><line x1="498.90000000000003" y1="287.5" x2="506.0" y2="287.5" stroke="#58c088" stroke-width="0.9"/><polygon points="502.70,288.88 503.94,286.67 501.46,286.67" fill="#23a45a"/><text x="507.0" y="288.5" font-size="2.9" fill="#444">Local</text><line x1="498.90000000000003" y1="291.3" x2="506.0" y2="291.3" stroke="#b07cec" stroke-width="0.9"/><polygon points="502.70,289.98 504.02,291.30 502.70,292.62 501.38,291.30" fill="#a45ee6"/><text x="507.0" y="292.3" font-size="2.9" fill="#444">Near</text><line x1="486.9" y1="240.4" x2="497.5" y2="251.6" stroke="#222" stroke-width="0.6"/><polygon points="497.50,251.60 494.49,250.31 496.38,248.53" fill="#111"/></g>
</g>
</svg>
</body></html>
